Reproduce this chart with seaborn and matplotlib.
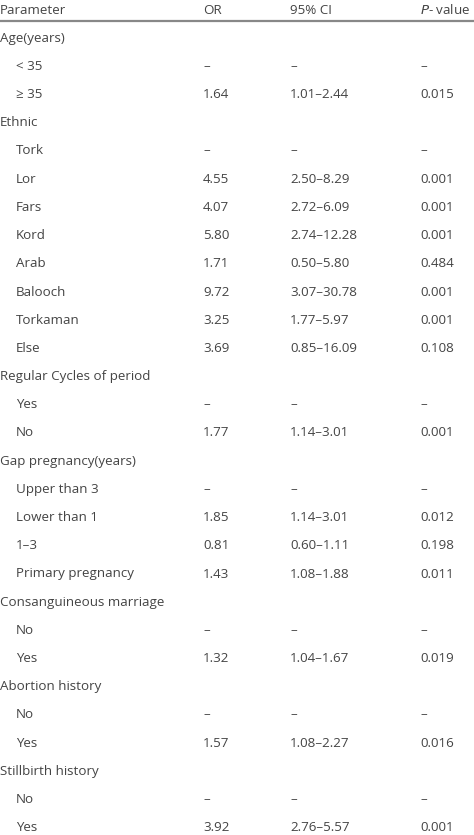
import matplotlib
matplotlib.use("Agg")
import matplotlib.pyplot as plt
import seaborn as sns

sns.set_theme(style="white")
plt.rcParams['font.family'] = ['Open Sans', 'DejaVu Sans']

# table contents
labels = ["Age(years)", "< 35", "\u2265 35", "Ethnic", "Tork", "Lor", "Fars", "Kord", "Arab",
          "Balooch", "Torkaman", "Else", "Regular Cycles of period", "Yes", "No",
          "Gap pregnancy(years)", "Upper than 3", "Lower than 1", "1\u20133", "Primary pregnancy",
          "Consanguineous marriage", "No", "Yes", "Abortion history", "No", "Yes",
          "Stillbirth history", "No", "Yes"]
is_group = [True, False, False, True, False, False, False, False, False, False, False, False,
            True, False, False, True, False, False, False, False, True, False, False,
            True, False, False, True, False, False]
odds = ["", "\u2013", "1.64", "", "\u2013", "4.55", "4.07", "5.80", "1.71", "9.72", "3.25", "3.69",
        "", "\u2013", "1.77", "", "\u2013", "1.85", "0.81", "1.43", "", "\u2013", "1.32",
        "", "\u2013", "1.57", "", "\u2013", "3.92"]
ci = ["", "\u2013", "1.01\u20132.44", "", "\u2013", "2.50\u20138.29", "2.72\u20136.09", "2.74\u201312.28",
      "0.50\u20135.80", "3.07\u201330.78", "1.77\u20135.97", "0.85\u201316.09", "", "\u2013",
      "1.14\u20133.01", "", "\u2013", "1.14\u20133.01", "0.60\u20131.11", "1.08\u20131.88", "",
      "\u2013", "1.04\u20131.67", "", "\u2013", "1.08\u20132.27", "", "\u2013", "2.76\u20135.57"]
pvals = ["", "\u2013", "0.015", "", "\u2013", "0.001", "0.001", "0.001", "0.484", "0.001", "0.001",
         "0.108", "", "\u2013", "0.001", "", "\u2013", "0.012", "0.198", "0.011", "", "\u2013",
         "0.019", "", "\u2013", "0.016", "", "\u2013", "0.001"]
headers = ["Parameter", "OR", "95% CI", "$P$- value"]

fig = plt.figure(figsize=(4.74, 8.35), dpi=100)
ax = fig.add_axes([0, 0, 1, 1])
ax.set_xlim(0, 474)
ax.set_ylim(835, 0)
ax.axis("off")

col_x = [0, 203, 290, 420]
txt = "#444444"
fs = 9.6
row_h = 28.2

for x, h in zip(col_x, headers):
    ax.text(x, 10, h, fontsize=fs, color=txt, va="center")
ax.axhline(21, color="#888888", lw=1.6)

for i, lab in enumerate(labels):
    y = 10 + row_h * (i + 1)
    ax.text(0 if is_group[i] else 16, y, lab, fontsize=fs, color=txt, va="center")
    for x, v in zip(col_x[1:], [odds[i], ci[i], pvals[i]]):
        if v:
            ax.text(x, y, v, fontsize=fs, color=txt, va="center")

fig.savefig("out.png", dpi=100)
